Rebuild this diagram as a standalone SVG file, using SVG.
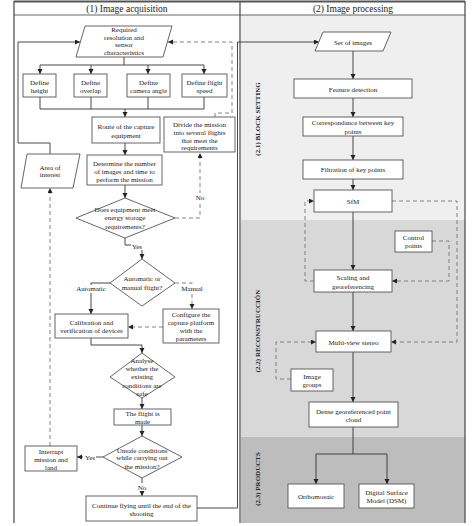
<svg xmlns="http://www.w3.org/2000/svg" width="474" height="526" viewBox="0 0 474 526">
<defs>
<style>
text{font-family:"Liberation Serif","DejaVu Serif",serif;font-size:7px;fill:#222;text-anchor:middle}
.t{font-size:9.5px}
.v{font-weight:bold;font-size:7px}
.b{fill:#fff;stroke:#555;stroke-width:0.9}
.c{fill:none;stroke:#333;stroke-width:0.9}
.d{fill:none;stroke:#777;stroke-width:0.9;stroke-dasharray:4 3}
.w{fill:#fff;stroke:none}
</style>
<marker id="a" markerUnits="userSpaceOnUse" markerWidth="6" markerHeight="6" refX="5" refY="2.5" orient="auto"><path d="M0,0L5,2.5L0,5z" fill="#222"/></marker>
</defs>
<rect x="0" y="0" width="474" height="526" fill="#fff"/>
<g id="bands">
<rect x="241" y="15" width="224" height="205" fill="#efefef"/>
<rect x="241" y="220" width="224" height="217" fill="#d8d8d8"/>
<rect x="241" y="437" width="224" height="86" fill="#bdbdbd"/>
</g>
<g id="frame">
<path d="M14,1.5H465" stroke="#555" stroke-width="2" fill="none"/>
<path d="M14,15H465" stroke="#555" stroke-width="0.9" fill="none"/>
<path d="M14,1V523M240,1V523M465,1V523" stroke="#555" stroke-width="1.3" fill="none"/>
<text class="t" x="127" y="12">(1) Image acquisition</text>
<text class="t" x="353" y="12">(2) Image processing</text>
<text class="v" transform="translate(260,119) rotate(-90)">(2.1) BLOCK SETTING</text>
<text class="v" transform="translate(260,331) rotate(-90)">(2.2) RECONSTRUCCIÓN</text>
<text class="v" transform="translate(260,479) rotate(-90)">(2.3) PRODUCTS</text>
</g>
<g id="connectors">
<path class="c" d="M124,57V65M40,65H204"/>
<path class="c" d="M40,65V74" marker-end="url(#a)"/>
<path class="c" d="M91,65V74" marker-end="url(#a)"/>
<path class="c" d="M148,65V74" marker-end="url(#a)"/>
<path class="c" d="M204,65V74" marker-end="url(#a)"/>
<path class="c" d="M40,97V109M91,97V109M148,97V109M204,97V109M40,109H204"/>
<path class="c" d="M125,109V117" marker-end="url(#a)"/>
<path class="c" d="M125,143V155" marker-end="url(#a)"/>
<path class="c" d="M125,185V198" marker-end="url(#a)"/>
<path class="d" d="M175,218H200V153" marker-end="url(#a)"/>
<path class="d" d="M215,117V113H232V42H168" marker-end="url(#a)"/>
<path class="c" d="M125,238V245H142V259" marker-end="url(#a)"/>
<path class="c" d="M110,283H91V314" marker-end="url(#a)"/>
<path class="d" d="M175,283H192V309" marker-end="url(#a)"/>
<path class="d" d="M163,327H128" marker-end="url(#a)"/>
<path class="c" d="M91,338V345H142V353" marker-end="url(#a)"/>
<path class="c" d="M142,398V409" marker-end="url(#a)"/>
<path class="c" d="M142,425V436" marker-end="url(#a)"/>
<path class="c" d="M103,457H77" marker-end="url(#a)"/>
<path class="d" d="M50,446V188" marker-end="url(#a)"/>
<path class="c" d="M50,154V143H18V42H80" marker-end="url(#a)"/>
<path class="c" d="M142,478V496" marker-end="url(#a)"/>
<path class="c" d="M197,508H237.5V42H319" marker-end="url(#a)"/>
<path class="c" d="M353,51V79" marker-end="url(#a)"/>
<path class="c" d="M353,98V117" marker-end="url(#a)"/>
<path class="c" d="M353,136V160" marker-end="url(#a)"/>
<path class="c" d="M353,179V190" marker-end="url(#a)"/>
<path class="c" d="M353,212V270" marker-end="url(#a)"/>
<path class="c" d="M353,292V331" marker-end="url(#a)"/>
<path class="c" d="M353,352V402" marker-end="url(#a)"/>
<path class="c" d="M353,427V454M316,454H387"/>
<path class="c" d="M316,454V484" marker-end="url(#a)"/>
<path class="c" d="M387,454V484" marker-end="url(#a)"/>
<path class="d" d="M314,281H305V201H314" marker-end="url(#a)"/>
<path class="d" d="M392,201H457V342H391" marker-end="url(#a)"/>
<path class="d" d="M432,241H449V281H392" marker-end="url(#a)"/>
<path class="d" d="M291,379H276V342H316" marker-end="url(#a)"/>
<rect class="w" x="193" y="193" width="14" height="8"/>
<text x="200" y="200">No</text>
<rect class="w" x="131" y="244" width="13" height="6"/>
<text x="137" y="249">Yes</text>
<rect class="w" x="76" y="285" width="31" height="8"/>
<text x="91" y="291">Automatic</text>
<rect class="w" x="180" y="285" width="24" height="8"/>
<text x="192" y="291">Manual</text>
<rect class="w" x="83" y="454" width="13" height="7"/>
<text x="90" y="460">Yes</text>
<rect class="w" x="135" y="483" width="14" height="8"/>
<text x="142" y="489.5">No</text>
</g>
<g id="n-required"><polygon class="b" points="85,26 172,26 163,57 76,57"/><text x="124" y="32">Required</text><text x="124" y="39.5">resolution and</text><text x="124" y="47">sensor</text><text x="124" y="54.5">characteristics</text></g>
<g id="n-height"><rect class="b" x="23" y="74" width="33" height="23"/><text x="39.5" y="84.5">Define</text><text x="39.5" y="92.5">height</text></g>
<g id="n-overlap"><rect class="b" x="74" y="74" width="33" height="23"/><text x="90.5" y="84.5">Define</text><text x="90.5" y="92.5">overlap</text></g>
<g id="n-angle"><rect class="b" x="127" y="74" width="43" height="23"/><text x="148.5" y="84.5">Define</text><text x="148.5" y="92.5">camera angle</text></g>
<g id="n-speed"><rect class="b" x="182" y="74" width="45" height="23"/><text x="204.5" y="84.5">Define flight</text><text x="204.5" y="92.5">speed</text></g>
<g id="n-route"><rect class="b" x="92" y="117" width="68" height="26"/><text x="126" y="128.5">Route of the capture</text><text x="126" y="137.5">equipment</text></g>
<g id="n-divide"><rect class="b" x="164" y="117" width="71" height="35"/><text x="199.5" y="126.5">Divide the mission</text><text x="199.5" y="134.5">into several flights</text><text x="199.5" y="142.5">that meet the</text><text x="199.5" y="150">requirements</text></g>
<g id="n-area"><polygon class="b" points="27,154 80,154 73,188 21,188"/><text x="50" y="169.5">Area of</text><text x="50" y="177">interest</text></g>
<g id="n-determine"><rect class="b" x="87" y="155" width="75" height="30"/><text x="124.5" y="165.5">Determine the number</text><text x="124.5" y="173.5">of images and time to</text><text x="124.5" y="181.5">perform the mission</text></g>
<g id="n-energy"><polygon class="b" points="125,198 175,218 125,238 76,218"/><text x="125" y="211.5">Does equipment meet</text><text x="125" y="220">energy storage</text><text x="125" y="228.5">requirements?</text></g>
<g id="n-auto"><polygon class="b" points="142,259 175,283 142,306 110,283"/><text x="142" y="280.5">Automatic or</text><text x="142" y="289.5">manual flight?</text></g>
<g id="n-calib"><rect class="b" x="55" y="314" width="73" height="24"/><text x="91.5" y="324.5">Calibration and</text><text x="91.5" y="332.5">verification of devices</text></g>
<g id="n-config"><rect class="b" x="163" y="309" width="56" height="34"/><text x="191" y="316.5">Configure the</text><text x="191" y="324.5">capture platform</text><text x="191" y="332.5">with the</text><text x="191" y="340.5">parameters</text></g>
<g id="n-analyse"><polygon class="b" points="142,353 175,377 142,398 110,377"/><text x="142" y="362.5">Analyse</text><text x="142" y="370.5">whether the</text><text x="142" y="379">existing</text><text x="142" y="387.5">conditions are</text><text x="142" y="395.5">safe</text></g>
<g id="n-made"><rect class="b" x="114" y="409" width="57" height="16"/><text x="142.5" y="415.5">The flight is</text><text x="142.5" y="423.5">made</text></g>
<g id="n-unsafe"><polygon class="b" points="142,436 182,457 142,478 103,457"/><text x="142" y="452.5">Unsafe conditions</text><text x="142" y="460">while carrying out</text><text x="142" y="468.5">the mission?</text></g>
<g id="n-interrupt"><rect class="b" x="25" y="446" width="52" height="25"/><text x="51" y="453.5">Interrupt</text><text x="51" y="461.5">mission and</text><text x="51" y="469.5">land</text></g>
<g id="n-continue"><rect class="b" x="86" y="496" width="111" height="25"/><text x="141.5" y="507.5">Continue flying until the end of the</text><text x="141.5" y="515.5">shooting</text></g>
<g id="n-set"><polygon class="b" points="323,32 391,32 383,51 315,51"/><text x="353" y="44.5">Set of images</text></g>
<g id="n-feature"><rect class="b" x="294" y="79" width="118" height="19"/><text x="353" y="91.5">Feature detection</text></g>
<g id="n-corr"><rect class="b" x="303" y="117" width="100" height="19"/><text x="353" y="124.5">Correspondance between key</text><text x="353" y="133.5">points</text></g>
<g id="n-filt"><rect class="b" x="303" y="160" width="100" height="19"/><text x="353" y="172">Filtration of key points</text></g>
<g id="n-sfm"><rect class="b" x="314" y="190" width="78" height="22"/><text x="353" y="203.5">SfM</text></g>
<g id="n-control"><rect class="b" x="395" y="231" width="37" height="21"/><text x="413.5" y="239.5">Control</text><text x="413.5" y="247.5">points</text></g>
<g id="n-scaling"><rect class="b" x="314" y="270" width="78" height="22"/><text x="353" y="279.5">Scaling and</text><text x="353" y="288.5">georeferencing</text></g>
<g id="n-mvs"><rect class="b" x="316" y="331" width="75" height="21"/><text x="353.5" y="344.5">Multi-view stereo</text></g>
<g id="n-groups"><rect class="b" x="291" y="369" width="42" height="22"/><text x="312" y="378.5">Image</text><text x="312" y="386.5">groups</text></g>
<g id="n-dense"><rect class="b" x="309" y="402" width="89" height="25"/><text x="353.5" y="413.5">Dense georeferenced point</text><text x="353.5" y="421.5">cloud</text></g>
<g id="n-ortho"><rect class="b" x="288" y="484" width="56" height="24"/><text x="316" y="498.5">Orthomosaic</text></g>
<g id="n-dsm"><rect class="b" x="359" y="484" width="55" height="24"/><text x="386.5" y="494.5">Digital Surface</text><text x="386.5" y="502.5">Model (DSM)</text></g>
</svg>
